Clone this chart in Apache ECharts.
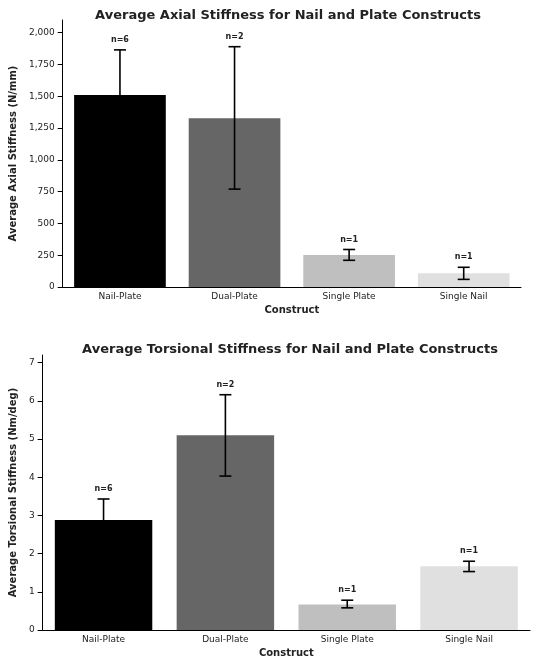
<!DOCTYPE html><html><head><meta charset="utf-8"><script src="https://cdn.jsdelivr.net/npm/echarts@6/dist/echarts.min.js"></script></head><body style="margin:0"><div id="c" style="width:550px;height:660px"></div><script>
const categories=['Nail-Plate','Dual-Plate','Single Plate','Single Nail'];
const nLabels=['n=6','n=2','n=1','n=1'];
const colors=['#000000','#666666','#bfbfbf','#e0e0e0'];
const axialMean=[1510,1328,252,108];
const axialLow=[1155,770,210,60];
const axialHigh=[1865,1890,295,155];
const torsMean=[2.88,5.1,0.67,1.67];
const torsLow=[2.34,4.03,0.58,1.53];
const torsHigh=[3.43,6.16,0.78,1.8];
const F='DejaVu Sans';
function errSeries(i,low,high){
 return {type:'custom',xAxisIndex:i,yAxisIndex:i,z:10,
  data:categories.map((c,k)=>[k,low[k],high[k]]),
  renderItem:(p,api)=>{const x=api.value(0);const a=api.coord([x,api.value(1)]),b=api.coord([x,api.value(2)]);const w=6;
   return {type:'group',children:[
    {type:'line',shape:{x1:a[0],y1:a[1],x2:b[0],y2:b[1]},style:{stroke:'#000',lineWidth:1.6}},
    {type:'line',shape:{x1:a[0]-w,y1:a[1],x2:a[0]+w,y2:a[1]},style:{stroke:'#000',lineWidth:1.6}},
    {type:'line',shape:{x1:b[0]-w,y1:b[1],x2:b[0]+w,y2:b[1]},style:{stroke:'#000',lineWidth:1.6}},
    {type:'text',style:{text:nLabels[p.dataIndex],x:b[0],y:b[1]-6,textAlign:'center',textVerticalAlign:'bottom',font:'bold 8px '+F,fill:'#222'}}]};}};
}
function xa(i){return {type:'category',gridIndex:i,data:categories,name:'Construct',nameLocation:'middle',nameGap:18,nameTextStyle:{fontFamily:F,fontWeight:'bold',fontSize:10,color:'#222'},axisLine:{lineStyle:{color:'#000'}},axisTick:{alignWithLabel:true,lineStyle:{color:'#000'}},axisLabel:{fontFamily:F,fontSize:9,color:'#222',margin:5}};}
function ya(i,max,interval,name,gap){return {type:'value',gridIndex:i,min:0,max,interval,name,nameLocation:'middle',nameGap:gap,nameTextStyle:{fontFamily:F,fontWeight:'bold',fontSize:10,color:'#222'},splitLine:{show:false},axisLine:{show:true,lineStyle:{color:'#000'}},axisTick:{show:true,lineStyle:{color:'#000'}},axisLabel:{fontFamily:F,fontSize:9,color:'#222',showMaxLabel:false}};}
function bars(i,d){return {type:'bar',xAxisIndex:i,yAxisIndex:i,barCategoryGap:'20%',data:d.map((v,k)=>({value:v,itemStyle:{color:colors[k]}}))};}
const chart=echarts.init(document.getElementById('c'));
chart.setOption({animation:false,backgroundColor:'#fff',
 title:[{text:'Average Axial Stiffness for Nail and Plate Constructs',left:283,top:4,textAlign:'center',textStyle:{fontFamily:F,fontSize:13,fontWeight:'bold',color:'#222'}},
  {text:'Average Torsional Stiffness for Nail and Plate Constructs',left:285,top:338,textAlign:'center',textStyle:{fontFamily:F,fontSize:13,fontWeight:'bold',color:'#222'}}],
 grid:[{left:45,right:29,top:20,height:267},{left:30,right:20,top:355,height:275}],
 xAxis:[xa(0),xa(1)],
 yAxis:[ya(0,2100,250,'Average Axial Stiffness (N/mm)',34),ya(1,7.2,1,'Average Torsional Stiffness (Nm/deg)',18)],
 series:[bars(0,axialMean),errSeries(0,axialLow,axialHigh),bars(1,torsMean),errSeries(1,torsLow,torsHigh)]});
</script></body></html>
